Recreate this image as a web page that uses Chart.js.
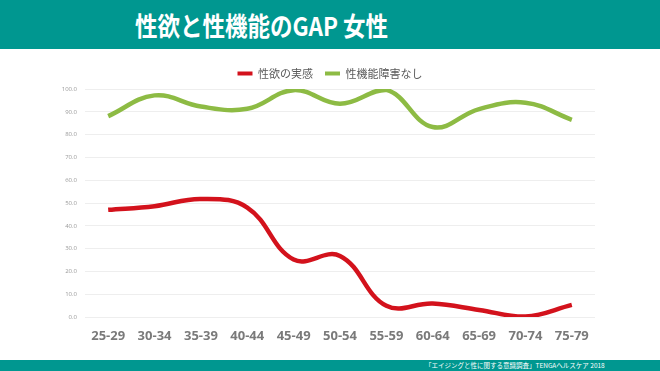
<!DOCTYPE html>
<html>
<head>
<meta charset="utf-8">
<script src="https://cdn.jsdelivr.net/npm/chart.js@4"></script>
<style>
  html, body { margin: 0; padding: 0; background: #fff; }
  body { width: 660px; height: 371px; position: relative; overflow: hidden; font-family: "Noto Sans CJK JP", sans-serif; }
  #title { position: absolute; left: 0; top: 0; width: 660px; height: 49px; background: #009790; }
  #title span { position: absolute; left: 135px; top: 7px; color: #fff; font-size: 22.5px; line-height: 30px; font-weight: bold; white-space: nowrap; transform: scaleY(1.15); transform-origin: left top; }
  #wrap { position: absolute; left: 0; top: 49px; width: 660px; height: 311px; }
  #foot { position: absolute; left: 0; top: 360px; width: 660px; height: 11px; background: #009790; }
  #foot span { position: absolute; left: 425px; top: 0px; color: #fff; font-size: 6.5px; line-height: 11px; white-space: nowrap; }
</style>
</head>
<body>
<div id="title"><span>性欲と性機能のGAP 女性</span></div>
<div id="wrap"><canvas id="chart" width="660" height="311"></canvas></div>
<div id="foot"><span>「エイジングと性に関する意識調査」TENGAヘルスケア 2018</span></div>
<script>
'use strict';

let ageGroups = ['25-29', '30-34', '35-39', '40-44', '45-49', '50-54', '55-59', '60-64', '65-69', '70-74', '75-79'];
let desireValues = [47.0, 48.6, 51.8, 48.0, 25.2, 26.8, 4.9, 5.9, 3.1, 0.2, 5.3];
let functionValues = [88.1, 97.2, 92.3, 91.3, 99.5, 93.5, 99.6, 83.3, 91.2, 94.0, 86.5];
let seriesNames = ['性欲の実感', '性機能障害なし'];

let canvasElem = document.getElementById('chart');

function renderChart() {
  let chartObj = {
    type: 'line',
    data: {
      labels: ageGroups,
      datasets: [{
        label: seriesNames[0],
        data: desireValues,
        borderColor: '#d3121c',
        backgroundColor: '#d3121c',
        borderWidth: 4.5,
        pointRadius: 0,
        tension: 0.4
      },
      {
        label: seriesNames[1],
        data: functionValues,
        borderColor: '#8dbb44',
        backgroundColor: '#8dbb44',
        borderWidth: 4.5,
        pointRadius: 0,
        tension: 0.4
      }]
    },
    options: {
      responsive: false,
      animation: false,
      layout: {
        padding: { top: 7, right: 0, left: 0, bottom: 0 }
      },
      plugins: {
        tooltip: { enabled: false },
        legend: {
          position: 'top',
          labels: {
            boxWidth: 15,
            boxHeight: 4,
            padding: 12,
            color: '#595959',
            font: { family: '"Noto Sans CJK JP", sans-serif', size: 11 },
            generateLabels: function (chart) {
              let items = Chart.defaults.plugins.legend.labels.generateLabels(chart);
              items.forEach(function (it) { it.lineWidth = 0; });
              return items;
            }
          }
        }
      },
      scales: {
        x: {
          offset: true,
          grid: { display: false },
          border: { display: false },
          ticks: {
            color: '#7a7a7a',
            padding: 3,
            font: { family: '"Open Sans", sans-serif', size: 13, weight: 'bold' }
          },
          afterFit: function (scale) { scale.height = 43; }
        },
        y: {
          min: 0,
          max: 100,
          grid: { color: '#eeeeee', drawTicks: false },
          border: { display: false },
          ticks: {
            stepSize: 10,
            padding: 8,
            color: '#999999',
            font: { family: '"Open Sans", sans-serif', size: 6 },
            callback: function (v) { return v.toFixed(1); }
          },
          afterFit: function (scale) { scale.width = 85; }
        },
        yRight: {
          position: 'right',
          display: true,
          grid: { display: false },
          border: { display: false },
          ticks: { display: false },
          afterFit: function (scale) { scale.width = 65; }
        }
      }
    }
  };

  new Chart(canvasElem, chartObj);
}

renderChart();
</script>
</body>
</html>
